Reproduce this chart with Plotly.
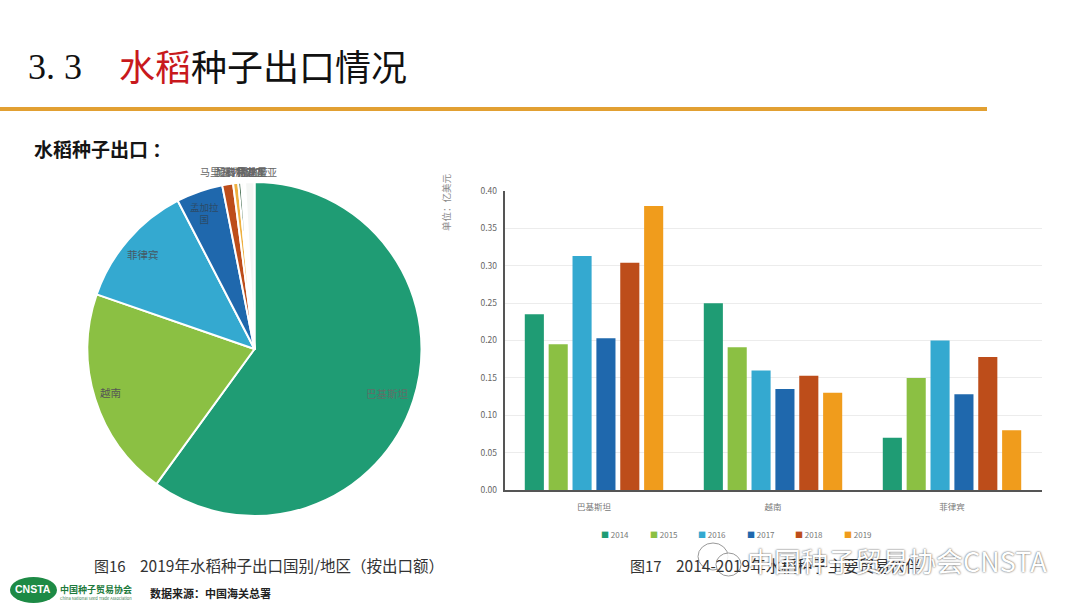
import plotly.graph_objects as go

# ---- data ----
pie_labels = ["巴基斯坦", "越南", "菲律宾", "孟加拉国", "马里", "加纳", "尼日利亚", "塞内加尔", "科特迪瓦", "其他"]
pie_values = [60.0, 20.3, 12.1, 4.5, 1.05, 0.5, 0.28, 0.2, 0.17, 0.9]
pie_colors = ["#1f9c74", "#8bc043", "#34a9d0", "#1f68ad", "#bd4d1a", "#eeb040", "#2c5a3a", "#7fae5a", "#8fc0b0", "#f4f6f4"]

categories = ["巴基斯坦", "越南", "菲律宾"]
years = ["2014", "2015", "2016", "2017", "2018", "2019"]
v2014 = [0.235, 0.250, 0.070]
v2015 = [0.195, 0.191, 0.150]
v2016 = [0.313, 0.160, 0.200]
v2017 = [0.203, 0.135, 0.128]
v2018 = [0.304, 0.153, 0.178]
v2019 = [0.380, 0.130, 0.080]
bar_series = [v2014, v2015, v2016, v2017, v2018, v2019]
bar_colors = ["#1f9c74", "#8bc043", "#34a9d0", "#1f68ad", "#bd4d1a", "#f09c1c"]
y_ticks = [0, 0.05, 0.10, 0.15, 0.20, 0.25, 0.30, 0.35, 0.40]

W, H = 1080, 608
CJK = "Noto Sans CJK SC"
px = lambda x: x / W
py = lambda y: 1 - y / H

fig = go.Figure()
fig.add_trace(go.Pie(
    labels=pie_labels, values=pie_values, sort=False, direction="clockwise", rotation=0,
    marker=dict(colors=pie_colors, line=dict(color="white", width=2)),
    textinfo="none", showlegend=False, hoverinfo="label+percent",
    domain=dict(x=[px(87.5), px(421.5)], y=[py(516), py(182)]),
))
for name, vals, col in zip(years, bar_series, bar_colors):
    fig.add_trace(go.Bar(name=name, x=categories, y=vals, marker_color=col, marker_line_width=0, showlegend=False))


def txt(x, y, s, size=10, color="#666666", anchor="left", family=CJK, **kw):
    fig.add_annotation(xref="paper", yref="paper", x=px(x), y=py(y), text=s, showarrow=False,
                       xanchor=anchor, yanchor="middle", align=anchor,
                       font=dict(size=size, color=color, family=family, **{k: v for k, v in kw.items() if k in ("shadow", "weight")}),
                       textangle=kw.get("textangle", 0), borderpad=0, borderwidth=0)


# title and headings
txt(28, 67, "3. 3", 36, "#111111", family="Liberation Serif")
txt(119, 65, "<span style='color:#c8191c'>水稻</span>种子出口情况", 36, "#111111")
txt(34, 149, "水稻种子出口 ：", 19, "#151515", weight=700)

# pie labels
txt(387, 393, "巴基斯坦", 10.5, "#5f6f68", anchor="center")
txt(110, 392, "越南", 10.5, "#555555", anchor="center")
txt(143, 255, "菲律宾", 10.5, "#445a66", anchor="center")
txt(204, 213, "孟加拉<br>国", 9.5, "#2c4a66", anchor="center")
for x, s in [(210, "马里"), (225, "加纳"), (236, "尼日利亚"), (241, "塞内加尔"), (246, "科特迪瓦"),
             (250, "几内亚"), (253, "冈比亚"), (257, "索马里亚")]:
    txt(x, 171, s, 10, "#666666", anchor="center")

# bar chart axis title
txt(446, 202, "单位：亿美元", 9.5, "#8a8a8a", anchor="center", textangle=-90)

# bar chart legend row
for i, (name, col) in enumerate(zip(years, bar_colors)):
    txt(601 + i * 48.6, 534, f"<span style='color:{col}'>■</span> {name}", 8, "#777777")

# captions
txt(94, 565, "图16", 15, "#333333")
txt(140, 565, "2019年水稻种子出口国别/地区（按出口额）", 15.5, "#333333")
txt(630, 565, "图17", 15, "#333333")
txt(676, 565, "2014-2019年水稻种子主要贸易伙伴", 15.5, "#333333")
txt(60, 589, "中国种子贸易协会", 9, "#1d7a3c", weight=700)
txt(60, 598, "China National Seed Trade Association", 4, "#3a7a50")
txt(150, 593, "数据来源：中国海关总署", 11, "#222222", weight=700)

# watermark
txt(747, 560, "中国种子贸易协会CNSTA", 27, "white", shadow="0 0 2px #333333")

# logo lettering
txt(33, 589, "CNSTA", 10.5, "white", anchor="center", family="Liberation Sans", weight=700)

shapes = [
    dict(type="rect", xref="paper", yref="paper", x0=0, x1=px(987), y0=py(111), y1=py(107),
         fillcolor="#e2a032", line_width=0),
    dict(type="circle", xref="paper", yref="paper", x0=px(10), x1=px(57), y0=py(603), y1=py(577),
         fillcolor="#1d8a45", line_width=0),
    dict(type="circle", xref="paper", yref="paper", x0=px(698), x1=px(728), y0=py(570), y1=py(543),
         fillcolor="rgba(255,255,255,0.85)", line=dict(color="#999999", width=1)),
    dict(type="circle", xref="paper", yref="paper", x0=px(716), x1=px(741), y0=py(576), y1=py(553),
         fillcolor="rgba(255,255,255,0.85)", line=dict(color="#999999", width=1)),
]

fig.update_layout(
    width=W, height=H, margin=dict(l=0, r=0, t=0, b=0), autosize=False,
    paper_bgcolor="white", plot_bgcolor="white",
    font=dict(family=CJK, color="#666666", size=9),
    barmode="group", bargap=0.2, bargroupgap=0.2,
    shapes=shapes, showlegend=False,
    xaxis=dict(domain=[px(504.5), px(1041.5)], automargin=False, showgrid=False, showline=True, linecolor="#555555", linewidth=1.5,
               ticks="", tickfont=dict(size=8.5, color="#777777"), ticklabelstandoff=8, fixedrange=True),
    yaxis=dict(domain=[py(490), py(191)], automargin=False, range=[0, 0.4], tickvals=y_ticks, tickformat=".2f",
               showgrid=True, gridcolor="#ececec", gridwidth=1, zeroline=False,
               showline=True, linecolor="#555555", linewidth=1.5, ticks="", ticklabelstandoff=4,
               tickfont=dict(size=8.5, color="#666666"), fixedrange=True),
)
fig.write_html("out.html", config={"displayModeBar": False}, post_script="document.body.style.margin='0';")
